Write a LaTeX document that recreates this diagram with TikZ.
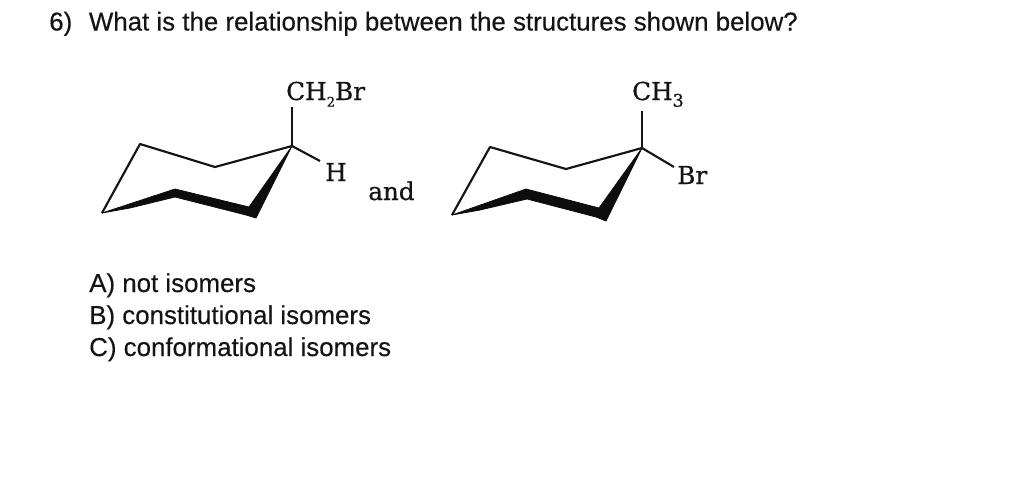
\documentclass[tikz,border=0pt]{standalone}
\usepackage{fontspec}
\setmainfont{Liberation Sans}
\newfontfamily\plainsans{Liberation Sans}[FakeBold=0.3]
\newfontfamily\chemfont{DejaVu Serif}[FakeBold=0.6]
\tikzset{
  px/.style={x=0.75pt,y=-0.75pt},
  body/.style={inner sep=0pt,anchor=base west,font=\plainsans\fontsize{19.4pt}{21pt}\selectfont,text=black!92},
  chem/.style={inner sep=0pt,anchor=base west,font=\chemfont\fontsize{18.5pt}{20pt}\selectfont,text=black!92},
  ringline/.style={draw=black!92,line width=1.6pt,line join=round},
  wedge/.style={fill=black!95,draw=black!95,line width=0.6pt,line join=round}
}
\begin{document}
\begin{tikzpicture}[px]
\useasboundingbox (0,0) rectangle (1024,483);
\fill[white] (0,0) rectangle (1024,483);
\node[body] (q) at (49,30.5) {6)\hspace{12.5pt}What is the relationship between the structures shown below?};
\node[body] (a) at (89,292) {A) not isomers};
\node[body] (b) at (89,324) {B) constitutional isomers};
\node[body] (c) at (89,356) {C) conformational isomers};
% first structure
\coordinate (c1) at (292,146);
\coordinate (c2) at (215,167);
\coordinate (c3) at (140,144);
\coordinate (c4) at (102,213);
\draw[ringline] (c1) -- (c2) -- (c3) -- (c4);
\fill[wedge] (c4) -- (175,189) -- (249,207) -- (c1) -- (256,218) -- (246,215) -- (175,197) -- (130,208) -- cycle;
\node[chem] (ch2br) at (286,100) {CH\raisebox{-5pt}{\fontsize{10pt}{12pt}\selectfont 2}Br};
\node[chem] (h) at (325,181) {H};
\node[chem] (and) at (368,200) {and};
\coordinate (up1) at (292,107);
\coordinate (hb1) at (320,161);
\draw[ringline] (c1) -- (up1);
\draw[ringline] (c1) -- (hb1);
% second structure
\coordinate (d1) at (642,148);
\coordinate (d2) at (566,169);
\coordinate (d3) at (490,147);
\coordinate (d4) at (452,215);
\draw[ringline] (d1) -- (d2) -- (d3) -- (d4);
\fill[wedge] (d4) -- (526,189) -- (599,208) -- (d1) -- (606,221) -- (596,217) -- (527,199) -- (480,210) -- cycle;
\node[chem] (ch3) at (632,100) {CH\raisebox{-5pt}{\fontsize{13pt}{14pt}\selectfont 3}};
\node[chem] (br) at (677,184) {Br};
\coordinate (up2) at (642,111);
\coordinate (bb2) at (674,167);
\draw[ringline] (d1) -- (up2);
\draw[ringline] (d1) -- (bb2);
\end{tikzpicture}
\end{document}
